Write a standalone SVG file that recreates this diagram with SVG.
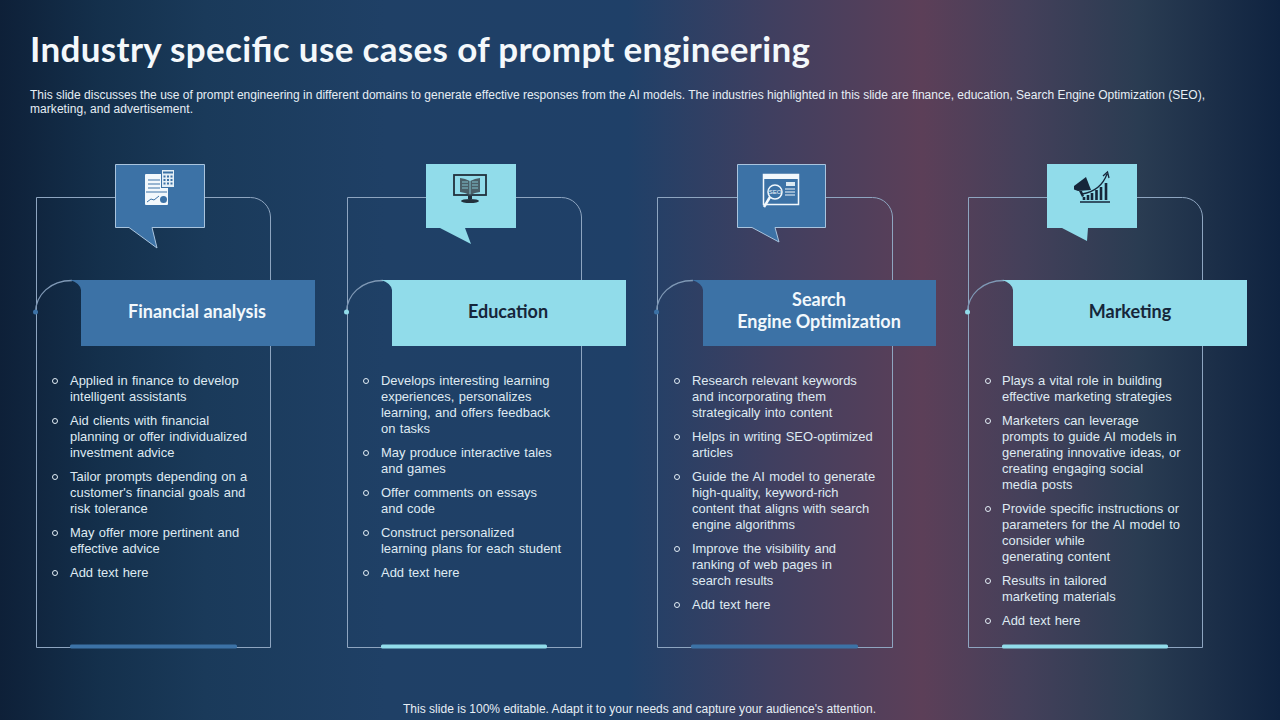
<svg xmlns="http://www.w3.org/2000/svg" width="1280" height="720" viewBox="0 0 1280 720">
<style>
.t{font-family:"Lato","Liberation Sans",sans-serif;font-weight:700}
.b{font-family:"Liberation Sans",Arial,sans-serif;font-size:12.95px;word-spacing:.8px;fill:#dfeaf2}
.s{font-family:"Liberation Sans",Arial,sans-serif;font-size:12px;fill:#e6eef5}
.h{font-size:18px;text-anchor:middle}
.w{fill:#f2f8fc}.d{fill:#16263a}
.card{fill:none;stroke:#8ea5c0;stroke-width:1}
.arc{fill:none;stroke:#7f98b5;stroke-width:1.300}
.bul{fill:none;stroke:#e3eef6;stroke-width:1}
.m{fill:#3c72a6}.c{fill:#91dcea}
</style>
<defs>
<linearGradient id="bg" x1="0" y1="0" x2="1" y2="0">
<stop offset="0" stop-color="#0e2038"/><stop offset=".08" stop-color="#14304c"/><stop offset=".16" stop-color="#1a3a5a"/><stop offset=".3" stop-color="#1f4066"/><stop offset=".49" stop-color="#1f4068"/><stop offset=".6" stop-color="#3f3f60"/><stop offset=".72" stop-color="#5c3f58"/><stop offset=".8" stop-color="#44405a"/><stop offset=".89" stop-color="#2a3c52"/><stop offset="1" stop-color="#0f2340"/>
</linearGradient>
</defs>
<rect width="1280" height="720" fill="url(#bg)"/>
<text class="t" x="30" y="62" font-size="35" fill="#f4f8fb" textLength="780">Industry specific use cases of prompt engineering</text>
<text class="s" x="30" y="99" textLength="1175">This slide discusses the use of prompt engineering in different domains to generate effective responses from the AI models. The industries highlighted in this slide are finance, education, Search Engine Optimization (SEO),</text>
<text class="s" x="30" y="113" textLength="163">marketing, and advertisement.</text>
<g id="connectors">
<path class="card" d="M115 197.500H36.500V647.500H270.500V217a20 20 0 0 0-20-19.500H205"/>
<path class="card" d="M426 197.500H347.500V647.500H581.500V217a20 20 0 0 0-20-19.500H516"/>
<path class="card" d="M737 197.500H657.500V647.500H892.500V217a20 20 0 0 0-20-19.500H826"/>
<path class="card" d="M1047 197.500H968.500V647.500H1202.500V217a20 20 0 0 0-20-19.500H1137"/>
<path class="arc" d="M35.500 312C36 295 50 280.500 72 280.500"/>
<path class="arc" d="M346.500 312C347 295 361 280.500 383 280.500"/>
<path class="arc" d="M656.500 312C657 295 671 280.500 693 280.500"/>
<path class="arc" d="M967.500 312C968 295 982 280.500 1004 280.500"/>
</g>
<g id="node-finance">
<path class="m" stroke="#a9c4de" d="M115.500 164.500H204.500V227.500H152L157 248 129 227.500H115.500Z"/>
<rect x="145" y="174" width="23" height="31" rx="1" fill="#f2f8fc"/>
<rect x="161.500" y="169.500" width="13" height="18" fill="#e4eff6" stroke="#3c72a6"/>
<path d="M163 172.500h10" stroke="#3c72a6" stroke-width="2"/>
<path d="M163.500 176.500h9M163.500 180h9M163.500 183.500h9" stroke="#3c72a6" stroke-width="1.800" stroke-dasharray="2 1.500"/>
<path d="M148 180h12M148 184h12M148 188h12M146 192h21" stroke="#3c72a6" stroke-width="1"/>
<path d="M147 202l4-3 3 1 5-4" stroke="#3c72a6" fill="none"/><circle cx="163.500" cy="199.500" r="3.500" fill="#3c72a6"/>
<path class="m" d="M81 280H315V346H81V290Q80 283 70 280Z"/>
<text class="t h w" x="197" y="318">Financial analysis</text>
<circle cx="35.500" cy="312" r="2.500" fill="#3c72a6"/>
<rect x="70" y="644.500" width="167" height="4" rx="1.500" fill="#3c72a6"/>
<g class="bul"><circle cx="55" cy="381" r="2.500"/><circle cx="55" cy="421" r="2.500"/><circle cx="55" cy="477" r="2.500"/><circle cx="55" cy="533" r="2.500"/><circle cx="55" cy="573" r="2.500"/></g>
<text class="b"><tspan x="70" y="385">Applied in finance to develop</tspan><tspan x="70" y="401">intelligent assistants</tspan><tspan x="70" y="425">Aid clients with financial</tspan><tspan x="70" y="441">planning or offer individualized</tspan><tspan x="70" y="457">investment advice</tspan><tspan x="70" y="481">Tailor prompts depending on a</tspan><tspan x="70" y="497">customer's financial goals and</tspan><tspan x="70" y="513">risk tolerance</tspan><tspan x="70" y="537">May offer more pertinent and</tspan><tspan x="70" y="553">effective advice</tspan><tspan x="70" y="577">Add text here</tspan></text>
</g>
<g id="node-education">
<path class="c" d="M426 164H516V228H465L471 244 440 228H426Z"/>
<rect x="454" y="175" width="32" height="20" fill="#91dcea" stroke="#22303c" stroke-width="1.800"/>
<path d="M460 178l5 1 5 2 5-2 5-1v14l-5 1-5 2-5-2-5-1Z" fill="#4a5f68"/>
<path d="M470 181v13M462 182h6M462 185h6M462 188h6M472 182h6M472 185h6M472 188h6" stroke="#91dcea" stroke-width=".8"/>
<path d="M468 196h4v3h-4Z" fill="#22303c"/><ellipse cx="470" cy="201" rx="9" ry="2" fill="#22303c"/>
<path class="c" d="M392 280H626V346H392V290Q391 283 381 280Z"/>
<text class="t h d" x="508" y="318">Education</text>
<circle cx="346.500" cy="312" r="2.500" fill="#91dcea"/>
<rect x="381" y="644.500" width="166" height="4" rx="1.500" fill="#91dcea"/>
<g class="bul"><circle cx="366" cy="381" r="2.500"/><circle cx="366" cy="453" r="2.500"/><circle cx="366" cy="493" r="2.500"/><circle cx="366" cy="533" r="2.500"/><circle cx="366" cy="573" r="2.500"/></g>
<text class="b"><tspan x="381" y="385">Develops interesting learning</tspan><tspan x="381" y="401">experiences, personalizes</tspan><tspan x="381" y="417">learning, and offers feedback</tspan><tspan x="381" y="433">on tasks</tspan><tspan x="381" y="457">May produce interactive tales</tspan><tspan x="381" y="473">and games</tspan><tspan x="381" y="497">Offer comments on essays</tspan><tspan x="381" y="513">and code</tspan><tspan x="381" y="537">Construct personalized</tspan><tspan x="381" y="553">learning plans for each student</tspan><tspan x="381" y="577">Add text here</tspan></text>
</g>
<g id="node-seo">
<path class="m" stroke="#a9c4de" d="M737.500 164.500H825.500V227.500H775L779 242 752 227.500H737.500Z"/>
<rect x="763.500" y="174.500" width="35" height="30" fill="#3c72a6" stroke="#f2f8fc" stroke-width="1.500"/>
<rect x="763" y="174" width="36" height="5" fill="#f2f8fc"/>
<circle cx="775" cy="192" r="7" fill="#3c72a6" stroke="#f2f8fc" stroke-width="1.500"/>
<path d="M770 197l-6 10" stroke="#f2f8fc" stroke-width="2.500"/>
<text x="775" y="194" font-family="Liberation Sans,Arial,sans-serif" font-size="6" fill="#f2f8fc" text-anchor="middle">SEO</text>
<rect x="786" y="182" width="9" height="4" fill="#dbe9f2"/>
<path d="M785 189h10M785 192h10M785 195h10" stroke="#f2f8fc" stroke-width="1.200"/>
<path class="m" d="M703 280H936V346H703V290Q702 283 692 280Z"/>
<text class="t h w"><tspan x="819" y="306">Search</tspan><tspan x="819" y="328">Engine Optimization</tspan></text>
<circle cx="656.500" cy="312" r="2.500" fill="#3c72a6"/>
<rect x="691" y="644.500" width="167" height="4" rx="1.500" fill="#3c72a6"/>
<g class="bul"><circle cx="677" cy="381" r="2.500"/><circle cx="677" cy="437" r="2.500"/><circle cx="677" cy="477" r="2.500"/><circle cx="677" cy="549" r="2.500"/><circle cx="677" cy="605" r="2.500"/></g>
<text class="b"><tspan x="692" y="385">Research relevant keywords</tspan><tspan x="692" y="401">and incorporating them</tspan><tspan x="692" y="417">strategically into content</tspan><tspan x="692" y="441">Helps in writing SEO-optimized</tspan><tspan x="692" y="457">articles</tspan><tspan x="692" y="481">Guide the AI model to generate</tspan><tspan x="692" y="497">high-quality, keyword-rich</tspan><tspan x="692" y="513">content that aligns with search</tspan><tspan x="692" y="529">engine algorithms</tspan><tspan x="692" y="553">Improve the visibility and</tspan><tspan x="692" y="569">ranking of web pages in</tspan><tspan x="692" y="585">search results</tspan><tspan x="692" y="609">Add text here</tspan></text>
</g>
<g id="node-marketing">
<path class="c" d="M1047 164H1137V228H1088L1087 241 1062 228H1047Z"/>
<path d="M1074 186l12-9 5 13-13 1-4-1.500Z" fill="#16263a"/>
<path d="M1079 191l3 6 2-1-2-5Z" fill="#16263a"/>
<path d="M1080 202h30" stroke="#16263a" stroke-width="1.500"/>
<path d="M1084 200v-3M1088 200v-5M1092 200v-7M1096.500 200v-10M1101 200v-13M1106 200v-17" stroke="#16263a" stroke-width="2.600"/>
<path d="M1082 194c12-2 21-9 25-20M1103 176l4.500-4 1.500 6" stroke="#16263a" fill="none" stroke-width="1.300"/>
<path class="c" d="M1013 280H1247V346H1013V290Q1012 283 1002 280Z"/>
<text class="t h d" x="1130" y="318">Marketing</text>
<circle cx="967.500" cy="312" r="2.500" fill="#91dcea"/>
<rect x="1002" y="644.500" width="166" height="4" rx="1.500" fill="#91dcea"/>
<g class="bul"><circle cx="988" cy="381" r="2.500"/><circle cx="988" cy="421" r="2.500"/><circle cx="988" cy="509" r="2.500"/><circle cx="988" cy="581" r="2.500"/><circle cx="988" cy="621" r="2.500"/></g>
<text class="b"><tspan x="1002" y="385">Plays a vital role in building</tspan><tspan x="1002" y="401">effective marketing strategies</tspan><tspan x="1002" y="425">Marketers can leverage</tspan><tspan x="1002" y="441">prompts to guide AI models in</tspan><tspan x="1002" y="457">generating innovative ideas, or</tspan><tspan x="1002" y="473">creating engaging social</tspan><tspan x="1002" y="489">media posts</tspan><tspan x="1002" y="513">Provide specific instructions or</tspan><tspan x="1002" y="529">parameters for the AI model to</tspan><tspan x="1002" y="545">consider while</tspan><tspan x="1002" y="561">generating content</tspan><tspan x="1002" y="585">Results in tailored</tspan><tspan x="1002" y="601">marketing materials</tspan><tspan x="1002" y="625">Add text here</tspan></text>
</g>
<text class="s" x="403" y="713" textLength="473">This slide is 100% editable. Adapt it to your needs and capture your audience's attention.</text>
</svg>
